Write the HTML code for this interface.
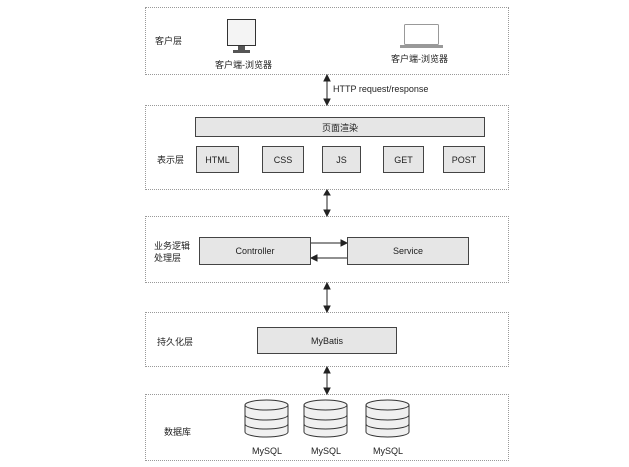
<!DOCTYPE html>
<html><head><meta charset="utf-8"><style>
body{margin:0;width:629px;height:467px;background:#fff;position:relative;overflow:hidden;font-family:"Liberation Sans","Noto Sans CJK SC",sans-serif;font-size:9px;color:#222}
.l{position:absolute;left:145px;width:364px;border:1px dotted #999;box-sizing:border-box}
.b{position:absolute;background:#e6e6e6;border:1px solid #444;box-sizing:border-box;display:flex;align-items:center;justify-content:center}
.t{position:absolute;white-space:nowrap}
</style></head><body>
<div class="l" style="top:7px;height:68px"></div>
<div class="l" style="top:105px;height:85px"></div>
<div class="l" style="top:216px;height:67px"></div>
<div class="l" style="top:312px;height:55px"></div>
<div class="l" style="top:394px;height:67px"></div>

<div class="t" style="left:155px;top:34px">客户层</div>
<div class="t" style="left:157px;top:153px">表示层</div>
<div class="t" style="left:154px;top:240px;line-height:12px">业务逻辑<br>处理层</div>
<div class="t" style="left:157px;top:335px">持久化层</div>
<div class="t" style="left:164px;top:425px">数据库</div>

<svg width="629" height="467" style="position:absolute;left:0;top:0">
<rect x="227.5" y="19.5" width="28" height="26" fill="#f4f4f4" stroke="#333"/>
<rect x="238" y="46" width="7" height="4" fill="#555"/>
<rect x="233" y="50" width="17" height="3" fill="#555"/>
<rect x="404.5" y="24.5" width="34" height="20" rx="1" fill="#fff" stroke="#999"/>
<rect x="400" y="45" width="43" height="3" fill="#999"/>
<g stroke="#222" fill="#222">
<line x1="327" y1="79" x2="327" y2="101"/><path d="M324,81 L327,75 L330,81Z M324,99 L327,105 L330,99Z"/>
<line x1="327" y1="193" x2="327" y2="212"/><path d="M324,195 L327,190 L330,195Z M324,210 L327,216 L330,210Z"/>
<line x1="327" y1="287" x2="327" y2="308"/><path d="M324,289 L327,283 L330,289Z M324,306 L327,312 L330,306Z"/>
<line x1="327" y1="371" x2="327" y2="390"/><path d="M324,373 L327,367 L330,373Z M324,388 L327,394 L330,388Z"/>
<line x1="311" y1="243" x2="343" y2="243"/><path d="M341,240 L347,243 L341,246Z"/>
<line x1="315" y1="258" x2="347" y2="258"/><path d="M317,255 L311,258 L317,261Z"/>
</g>
<g fill="#f0f0f0" stroke="#333">
<g id="db"><path d="M245,405 v27 a21.5,5 0 0 0 43,0 v-27"/><ellipse cx="266.5" cy="405" rx="21.5" ry="5"/><path d="M245,415 a21.5,5 0 0 0 43,0 M245,424 a21.5,5 0 0 0 43,0" fill="none"/></g>
<use href="#db" x="59"/><use href="#db" x="121"/>
</g>
</svg>
<div class="t" style="left:215px;top:58px">客户端-浏览器</div>
<div class="t" style="left:391px;top:52px">客户端-浏览器</div>
<div class="t" style="left:333px;top:84px">HTTP request/response</div>

<div class="b" style="left:195px;top:117px;width:290px;height:20px">页面渲染</div>
<div class="b" style="left:196px;top:146px;width:43px;height:27px">HTML</div>
<div class="b" style="left:262px;top:146px;width:42px;height:27px">CSS</div>
<div class="b" style="left:322px;top:146px;width:39px;height:27px">JS</div>
<div class="b" style="left:383px;top:146px;width:41px;height:27px">GET</div>
<div class="b" style="left:443px;top:146px;width:42px;height:27px">POST</div>
<div class="b" style="left:199px;top:237px;width:112px;height:28px">Controller</div>
<div class="b" style="left:347px;top:237px;width:122px;height:28px">Service</div>
<div class="b" style="left:257px;top:327px;width:140px;height:27px">MyBatis</div>
<div class="t" style="left:252px;top:446px">MySQL</div>
<div class="t" style="left:311px;top:446px">MySQL</div>
<div class="t" style="left:373px;top:446px">MySQL</div>
</body></html>
